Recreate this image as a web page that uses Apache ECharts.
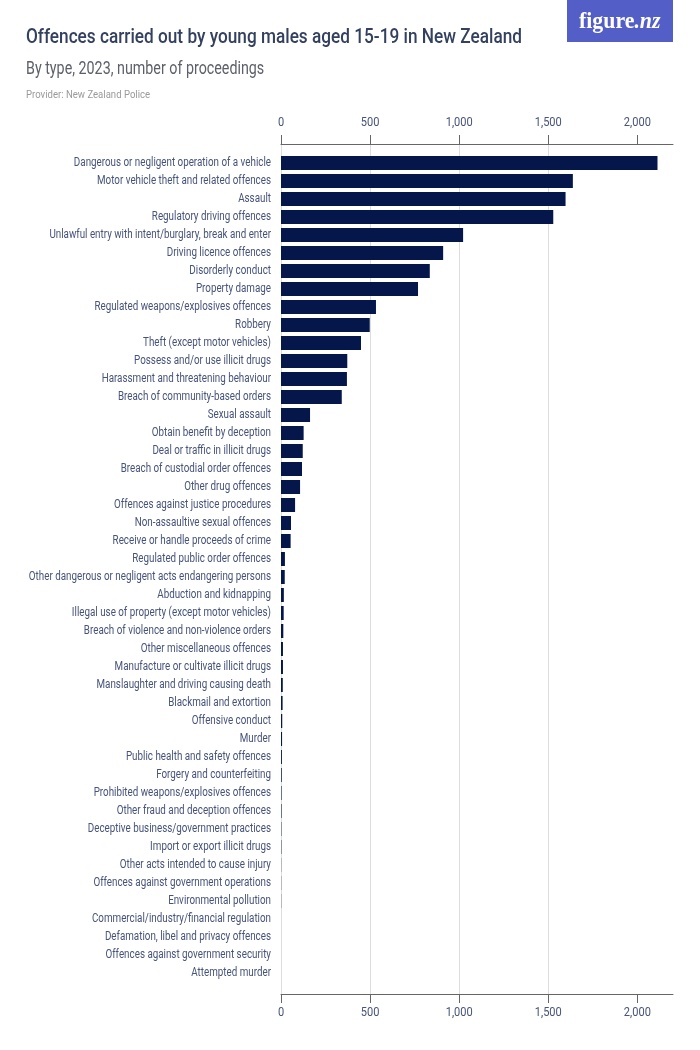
<!DOCTYPE html>
<html>
<head>
<meta charset="utf-8">
<style>
html, body { margin: 0; padding: 0; background: #fff; }
#chart-container { width: 700px; height: 1050px; }
</style>
<script src="https://cdn.jsdelivr.net/npm/echarts@6/dist/echarts.min.js"></script>
</head>
<body>
<div id="chart-container"></div>
<script>
var categories = [
    'Dangerous or negligent operation of a vehicle',
    'Motor vehicle theft and related offences',
    'Assault',
    'Regulatory driving offences',
    'Unlawful entry with intent/burglary, break and enter',
    'Driving licence offences',
    'Disorderly conduct',
    'Property damage',
    'Regulated weapons/explosives offences',
    'Robbery',
    'Theft (except motor vehicles)',
    'Possess and/or use illicit drugs',
    'Harassment and threatening behaviour',
    'Breach of community-based orders',
    'Sexual assault',
    'Obtain benefit by deception',
    'Deal or traffic in illicit drugs',
    'Breach of custodial order offences',
    'Other drug offences',
    'Offences against justice procedures',
    'Non-assaultive sexual offences',
    'Receive or handle proceeds of crime',
    'Regulated public order offences',
    'Other dangerous or negligent acts endangering persons',
    'Abduction and kidnapping',
    'Illegal use of property (except motor vehicles)',
    'Breach of violence and non-violence orders',
    'Other miscellaneous offences',
    'Manufacture or cultivate illicit drugs',
    'Manslaughter and driving causing death',
    'Blackmail and extortion',
    'Offensive conduct',
    'Murder',
    'Public health and safety offences',
    'Forgery and counterfeiting',
    'Prohibited weapons/explosives offences',
    'Other fraud and deception offences',
    'Deceptive business/government practices',
    'Import or export illicit drugs',
    'Other acts intended to cause injury',
    'Offences against government operations',
    'Environmental pollution',
    'Commercial/industry/financial regulation',
    'Defamation, libel and privacy offences',
    'Offences against government security',
    'Attempted murder'
];
var proceedings = [
    2113, 1638, 1597, 1528, 1022, 910, 835, 769, 533, 498,
    449, 372, 370, 341, 163, 127, 122, 118, 107, 79,
    56, 54, 22, 21, 16, 15, 13, 11, 11, 10,
    9, 7, 6, 5, 4, 3, 3, 2, 2, 1,
    1, 1, 0, 0, 0, 0
];
var xTicks = [0, 500, 1000, 1500, 2000];

var fontName = 'Roboto, "Liberation Sans", sans-serif';
var navy = '#04164a';
var labelColor = '#46537a';

var dom = document.getElementById('chart-container');
var myChart = echarts.init(dom, null, { renderer: 'canvas' });

// no condensed font is installed, so text is squeezed horizontally
var squeezed = function (x, y, text, align, size, color, scale, weight) {
    return {
        type: 'text',
        x: x,
        y: y,
        scaleX: scale,
        style: {
            x: 0,
            y: 0,
            text: text,
            align: align,
            verticalAlign: 'middle',
            fontFamily: fontName,
            fontSize: size,
            fontWeight: weight || 'normal',
            fill: color
        }
    };
};

var valueAxis = function (position) {
    return {
        type: 'value',
        gridIndex: 0,
        position: position,
        min: 0,
        max: 2200,
        interval: 500,
        axisLine: { show: true, onZero: false, lineStyle: { color: '#666', width: 1 } },
        axisTick: { show: true, length: 9, customValues: xTicks, lineStyle: { color: '#666' } },
        axisLabel: { show: false },
        splitLine: { show: true, showMaxLine: false, lineStyle: { color: '#dddddd', width: 1 } }
    };
};

// tick labels, placed through the value axis scale
var tickLabels = function (axisIndex, labelY) {
    return {
        type: 'custom',
        coordinateSystem: 'cartesian2d',
        xAxisIndex: axisIndex,
        yAxisIndex: 0,
        silent: true,
        clip: false,
        data: xTicks.map(function (t) { return [t, 0]; }),
        renderItem: function (params, api) {
            var px = api.coord([api.value(0), 0]);
            return squeezed(px[0], labelY, echarts.format.addCommas(api.value(0)), 'center', 13, labelColor, 0.85);
        }
    };
};

var option = {
    animation: false,
    textStyle: { fontFamily: fontName },
    graphic: [
        squeezed(26, 38, 'Offences carried out by young males aged 15-19 in New Zealand', 'left', 20.5, '#33415f', 0.84, 500),
        squeezed(26, 70, 'By type, 2023, number of proceedings', 'left', 17.5, '#5c6068', 0.816),
        squeezed(26, 95, 'Provider: New Zealand Police', 'left', 11, '#9a9a9a', 0.87),
        {
            type: 'rect',
            shape: { x: 567, y: 0, width: 106, height: 42 },
            style: { fill: '#535ec6' }
        },
        {
            type: 'text',
            x: 579,
            y: 10,
            scaleX: 0.91,
            style: {
                text: '{a|figure}{b|.nz}',
                fill: '#fff',
                rich: {
                    a: { fontFamily: '"Liberation Serif", serif', fontWeight: 'bold', fontSize: 24, fill: '#fff' },
                    b: { fontFamily: '"Liberation Serif", serif', fontWeight: 'bold', fontStyle: 'italic', fontSize: 24, fill: '#fff' }
                }
            }
        }
    ],
    grid: [
        { left: 281, right: 27, top: 144, bottom: 56, outerBoundsMode: 'none' },
        { left: 281, right: 27, top: 154, bottom: 68, outerBoundsMode: 'none' }
    ],
    xAxis: [
        valueAxis('top'),
        valueAxis('bottom'),
        { type: 'value', gridIndex: 1, min: 0, max: 2200, show: false }
    ],
    yAxis: [
        { type: 'category', gridIndex: 0, data: categories, show: false, inverse: true },
        {
            type: 'category',
            gridIndex: 1,
            data: categories,
            inverse: true,
            axisLine: { show: false },
            axisTick: { show: false },
            axisLabel: { show: false }
        }
    ],
    series: [
        {
            name: 'Proceedings',
            type: 'bar',
            xAxisIndex: 2,
            yAxisIndex: 1,
            data: proceedings,
            barWidth: 14,
            itemStyle: { color: navy },
            silent: true
        },
        {
            // category labels, placed through the category axis
            type: 'custom',
            coordinateSystem: 'cartesian2d',
            xAxisIndex: 2,
            yAxisIndex: 1,
            silent: true,
            clip: false,
            data: categories.map(function (c, i) { return [0, i]; }),
            renderItem: function (params, api) {
                var px = api.coord([0, api.value(1)]);
                return squeezed(px[0] - 10, px[1], categories[params.dataIndex], 'right', 12.5, labelColor, 0.785);
            }
        },
        tickLabels(0, 123),
        tickLabels(1, 1013)
    ]
};

myChart.setOption(option);

window.addEventListener('resize', myChart.resize);
</script>
</body>
</html>
